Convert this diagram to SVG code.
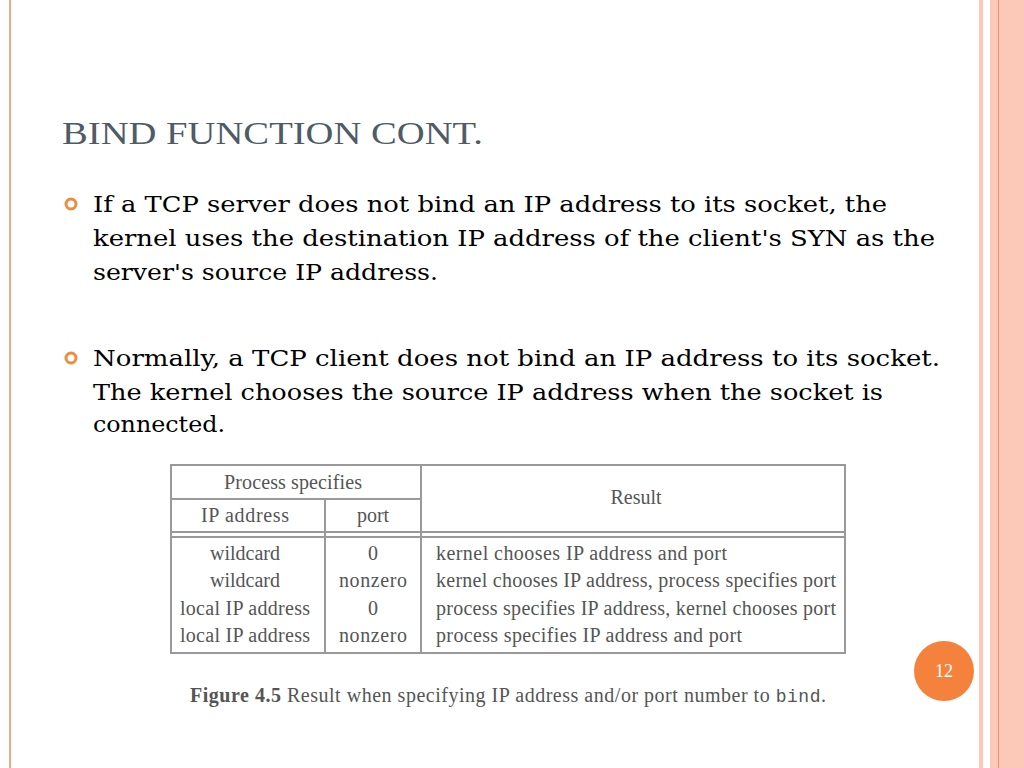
<svg xmlns="http://www.w3.org/2000/svg" width="1024" height="768" viewBox="0 0 1024 768">
<style>
.b{font-family:"DejaVu Serif",serif;font-size:23px;fill:#000}
.t{font-family:"Liberation Serif",serif;font-size:20px;fill:#555}
.g{stroke:#999;stroke-width:2;fill:none}
</style>
<rect width="1024" height="768" fill="#fff"/>
<rect x="9" y="0" width="2" height="768" fill="#f4a88a"/>
<rect x="979" y="0" width="4" height="768" fill="#fcc8b8"/>
<rect x="990" y="0" width="8" height="768" fill="#fcc8b8"/>
<rect x="998" y="0" width="1.5" height="768" fill="#e8936c"/>
<rect x="999.5" y="0" width="24.5" height="768" fill="#fcc8b8"/>
<text x="62" y="144" font-family="Liberation Serif,serif" font-size="32" fill="#4f5b66" textLength="421" lengthAdjust="spacingAndGlyphs">BIND FUNCTION CONT.</text>
<g fill="none" stroke="#f08a3c" stroke-width="3"><circle cx="71" cy="204" r="5"/><circle cx="71" cy="358" r="5"/></g>
<text class="b" x="93" y="212" textLength="794" lengthAdjust="spacingAndGlyphs">If a TCP server does not bind an IP address to its socket, the</text>
<text class="b" x="93" y="246" textLength="842" lengthAdjust="spacingAndGlyphs">kernel uses the destination IP address of the client's SYN as the</text>
<text class="b" x="93" y="280" textLength="345" lengthAdjust="spacingAndGlyphs">server's source IP address.</text>
<text class="b" x="93" y="366" textLength="847" lengthAdjust="spacingAndGlyphs">Normally, a TCP client does not bind an IP address to its socket.</text>
<text class="b" x="93" y="400" textLength="790" lengthAdjust="spacingAndGlyphs">The kernel chooses the source IP address when the socket is</text>
<text class="b" x="93" y="432" textLength="132" lengthAdjust="spacingAndGlyphs">connected.</text>
<g id="table">
<rect class="g" x="171" y="465" width="674" height="188"/>
<line class="g" x1="421" y1="465" x2="421" y2="653"/>
<line class="g" x1="325" y1="499" x2="325" y2="653"/>
<line class="g" x1="171" y1="499" x2="421" y2="499"/>
<line class="g" x1="171" y1="532" x2="845" y2="532"/>
<line class="g" x1="171" y1="537" x2="845" y2="537"/>
<text class="t" x="293" y="489" text-anchor="middle" textLength="138">Process specifies</text>
<text class="t" x="636" y="504" text-anchor="middle">Result</text>
<text class="t" x="245" y="522" text-anchor="middle" textLength="88">IP address</text>
<text class="t" x="373" y="522" text-anchor="middle">port</text>
<g class="t" text-anchor="middle">
<text x="245" y="560">wildcard</text><text x="245" y="587">wildcard</text><text x="245" y="615" textLength="130">local IP address</text><text x="245" y="642" textLength="130">local IP address</text>
<text x="373" y="560">0</text><text x="373" y="587" textLength="68">nonzero</text><text x="373" y="615">0</text><text x="373" y="642" textLength="68">nonzero</text>
</g>
<text class="t" x="436" y="560" textLength="291">kernel chooses IP address and port</text>
<text class="t" x="436" y="587" textLength="400">kernel chooses IP address, process specifies port</text>
<text class="t" x="436" y="615" textLength="400">process specifies IP address, kernel chooses port</text>
<text class="t" x="436" y="642" textLength="306">process specifies IP address and port</text>
<text x="190" y="702" font-family="Liberation Serif,serif" font-size="20" fill="#555" textLength="636"><tspan font-weight="bold">Figure 4.5</tspan>  Result when specifying IP address and/or port number to <tspan font-family="Liberation Mono,monospace" font-size="18">bind</tspan>.</text>
</g>
<circle cx="944" cy="671" r="30" fill="#f4823c"/>
<text x="944" y="677" text-anchor="middle" font-family="Liberation Serif,serif" font-size="18" fill="#fff">12</text>
</svg>
